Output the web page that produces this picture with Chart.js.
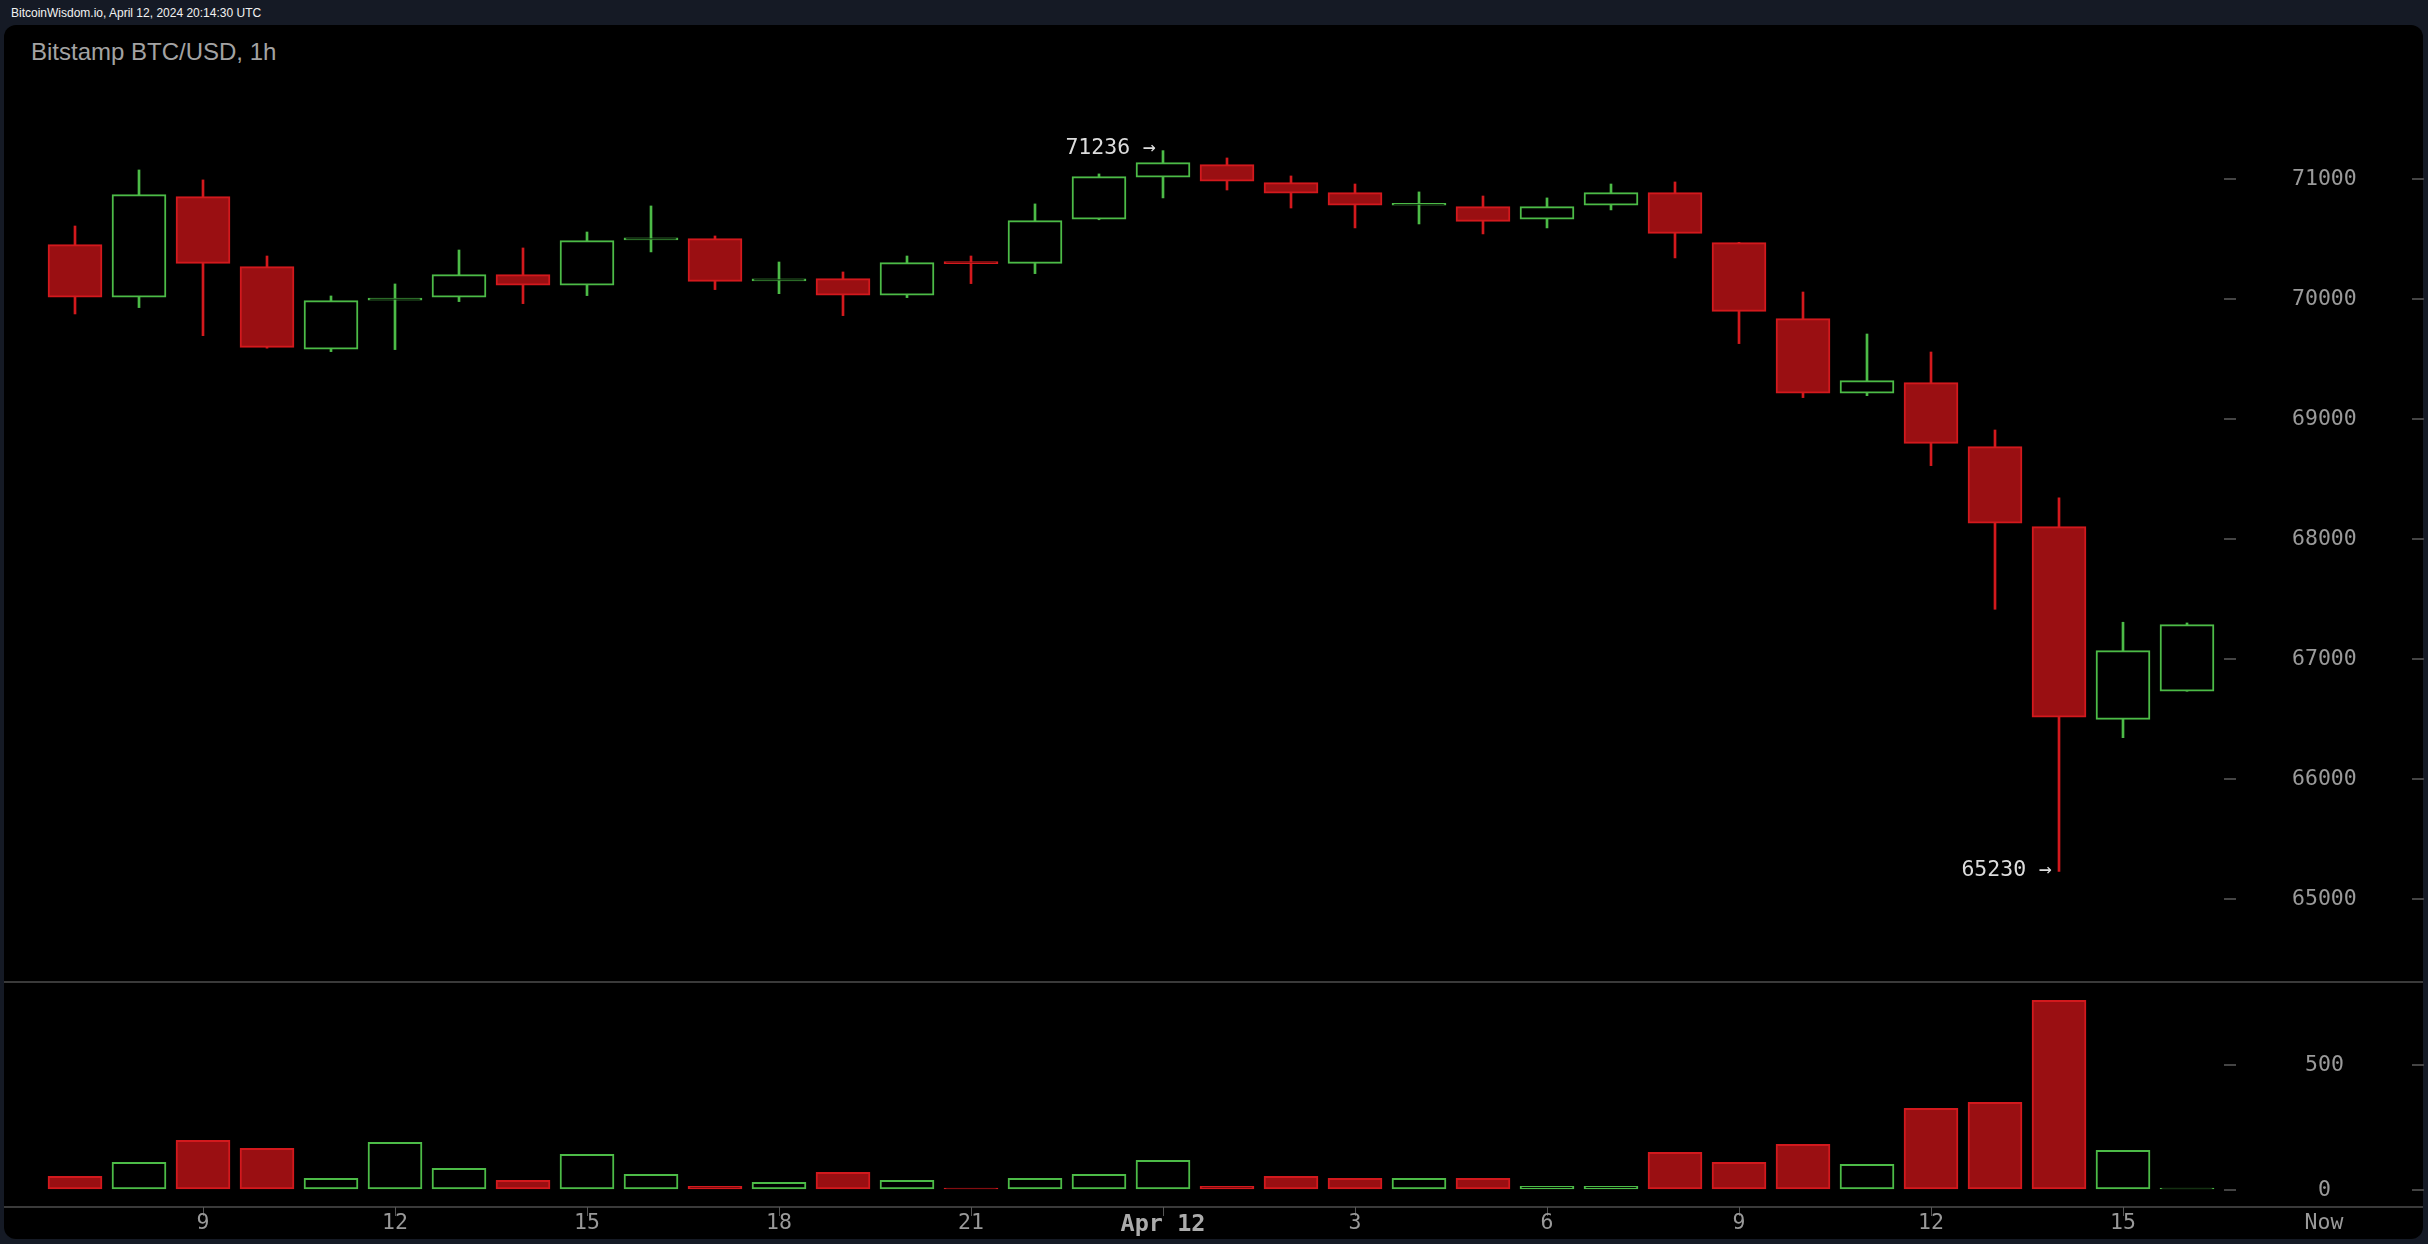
<!DOCTYPE html>
<html>
<head>
<meta charset="utf-8">
<script src="https://cdn.jsdelivr.net/npm/chart.js@4.4.1/dist/chart.umd.min.js"></script>
<style>
  html, body { margin: 0; padding: 0; width: 2428px; height: 1244px; overflow: hidden; background: #151a25; }
  #header { position: absolute; left: 11px; top: 7px; font: 12px/12px "Liberation Sans", Arial, sans-serif; color: #f2f2f2; white-space: nowrap; }
  #panel { position: absolute; left: 4px; top: 25px; width: 2419px; height: 1214px; background: #000; border-radius: 12px; }
  #title { position: absolute; left: 31px; top: 40px; font: 24px/24px "Liberation Sans", Arial, sans-serif; color: #a3a3a3; white-space: nowrap; }
  .hline { position: absolute; left: 4px; width: 2419px; height: 2px; background: #3a3a3a; }
  #sep { top: 981px; }
  #axisline { top: 1206px; }
  #priceCanvas { position: absolute; left: 0; top: 0; }
  #volCanvas { position: absolute; left: 0; top: 982px; }
</style>
</head>
<body>
<div id="header">BitcoinWisdom.io, April 12, 2024 20:14:30 UTC</div>
<div id="panel"></div>
<div class="hline" id="sep"></div>
<div class="hline" id="axisline"></div>
<div id="title">Bitstamp BTC/USD, 1h</div>
<canvas id="priceCanvas" width="2428" height="982"></canvas>
<canvas id="volCanvas" width="2428" height="262"></canvas>
<script>
// ---- data (hours since Apr 11 00:00) ----
const times  = [7, 8, 9, 10, 11, 12, 13, 14, 15, 16, 17, 18, 19, 20, 21, 22, 23, 24, 25, 26, 27, 28, 29, 30, 31, 32, 33, 34, 35, 36, 37, 38, 39, 40];
const opens  = [70453, 70014, 70853, 70269, 69581, 69990, 70014, 70203, 70114, 70492, 70503, 70150, 70169, 70031, 70305, 70297, 70664, 71014, 71119, 70969, 70886, 70781, 70769, 70664, 70781, 70886, 70469, 69836, 69214, 69303, 68769, 68103, 66497, 66731];
const highs  = [70608, 71075, 70992, 70358, 70025, 70125, 70408, 70425, 70558, 70775, 70525, 70308, 70225, 70358, 70358, 70792, 71042, 71236, 71175, 71025, 70958, 70892, 70858, 70842, 70958, 70975, 70472, 70058, 69708, 69558, 68908, 68342, 67306, 67300];
const lows   = [69875, 69928, 69694, 69590, 69561, 69578, 69978, 69961, 70028, 70392, 70078, 70044, 69861, 70011, 70128, 70211, 70660, 70842, 70908, 70758, 70592, 70625, 70542, 70592, 70742, 70342, 69628, 69178, 69194, 68611, 67414, 65230, 66344, 66731];
const closes = [70014, 70869, 70297, 69597, 69986, 70000, 70203, 70114, 70486, 70500, 70147, 70167, 70031, 70303, 70295, 70653, 71019, 71136, 70981, 70881, 70781, 70785, 70647, 70769, 70886, 70547, 69897, 69214, 69319, 68797, 68131, 66514, 67069, 67286];
const volumes = [55, 111, 199, 167, 47, 191, 87, 39, 143, 63, 15, 31, 71, 39, 7, 47, 63, 119, 15, 55, 47, 47, 47, 15, 15, 151, 111, 183, 103, 327, 351, 759, 159, 3];

const priceTicks  = [65000, 66000, 67000, 68000, 69000, 70000, 71000];
const volumeTicks = [0, 500];
const xTickValues = [9, 12, 15, 18, 21, 24, 27, 30, 33, 36, 39];
const xTickLabels = ['9', '12', '15', '18', '21', 'Apr 12', '3', '6', '9', '12', '15'];
const nowLabel = 'Now';

// ---- axis ranges ----
const xMin = 6.140625, xMax = 40.578125;
const pMin = 64308, pMax = 71908;
const vMin = -68, vMax = 832;

// ---- styles ----
const RED_FILL = '#9a0f12', RED_LINE = '#d3191d', GREEN = '#4cbb47';
const MONO = '"DejaVu Sans Mono", monospace';
const up = i => closes[i] >= opens[i];

const edgeTicks = {
  id: 'edgeTicks',
  afterDraw(chart) {
    const s = chart.scales.y, ctx = chart.ctx;
    ctx.save();
    ctx.strokeStyle = '#444'; ctx.lineWidth = 2;
    s.ticks.forEach(t => {
      const y = Math.round(s.getPixelForValue(t.value));
      ctx.beginPath(); ctx.moveTo(2412, y); ctx.lineTo(2424, y); ctx.stroke();
    });
    ctx.restore();
  }
};

const extremes = {
  id: 'extremes',
  afterDatasetsDraw(chart) {
    const xs = chart.scales.x, ys = chart.scales.y, ctx = chart.ctx;
    const hi = Math.max(...highs), lo = Math.min(...lows);
    const iHi = highs.indexOf(hi), iLo = lows.indexOf(lo);
    ctx.save();
    ctx.font = '21.5px ' + MONO;
    ctx.fillStyle = '#dcdcdc';
    ctx.textAlign = 'right';
    ctx.textBaseline = 'middle';
    ctx.fillText(hi + ' \u2192', xs.getPixelForValue(times[iHi]) - 7, ys.getPixelForValue(hi) - 2);
    ctx.fillText(lo + ' \u2192', xs.getPixelForValue(times[iLo]) - 7, ys.getPixelForValue(lo) - 1);
    ctx.restore();
  }
};

const nowText = {
  id: 'nowText',
  afterDraw(chart) {
    const xs = chart.scales.x, ctx = chart.ctx;
    ctx.save();
    ctx.font = '21.5px ' + MONO;
    ctx.fillStyle = '#999';
    ctx.textAlign = 'center';
    ctx.textBaseline = 'middle';
    ctx.fillText(nowLabel, 2324, xs.top + 9 - 5 + 21.5 * 1.2 / 2);
    ctx.restore();
  }
};

const commonX = {
  type: 'linear', min: xMin, max: xMax, offset: false, bounds: 'data',
  grid: { offset: false, drawOnChartArea: false }
};

new Chart(document.getElementById('priceCanvas'), {
  type: 'bar',
  data: {
    datasets: [
      {
        label: 'body',
        data: times.map((t, i) => ({ x: t, y: [opens[i], closes[i]] })),
        backgroundColor: c => up(c.dataIndex) ? '#000' : RED_FILL,
        borderColor: c => up(c.dataIndex) ? GREEN : RED_LINE,
        borderWidth: 2, borderSkipped: false, barThickness: 54, minBarLength: 2,
        grouped: false, order: 0
      },
      {
        label: 'wick',
        data: times.map((t, i) => ({ x: t, y: [lows[i], highs[i]] })),
        backgroundColor: c => up(c.dataIndex) ? GREEN : RED_LINE,
        borderWidth: 0, barThickness: 2, grouped: false, order: 1
      }
    ]
  },
  options: {
    responsive: false, animation: false, devicePixelRatio: 1, events: [],
    layout: { padding: { left: 20, right: 16, top: 70, bottom: 0 } },
    plugins: { legend: { display: false }, tooltip: { enabled: false } },
    scales: {
      x: Object.assign({}, commonX, { display: false }),
      y: {
        type: 'linear', position: 'right', min: pMin, max: pMax, bounds: 'data', beginAtZero: false,
        afterBuildTicks: s => { s.ticks = priceTicks.map(v => ({ value: v })); },
        afterFit: s => { s.width = 188; s.paddingTop = 0; s.paddingBottom = 0; },
        grid: { drawOnChartArea: false, drawTicks: true, tickLength: 12, color: '#444', lineWidth: 2 },
        border: { display: false },
        ticks: { color: '#9a9a9a', font: { family: MONO, size: 21.5 }, padding: 56, crossAlign: 'center', callback: v => String(v) }
      }
    }
  },
  plugins: [edgeTicks, extremes]
});

new Chart(document.getElementById('volCanvas'), {
  type: 'bar',
  data: {
    datasets: [{
      label: 'volume',
      data: times.map((t, i) => ({ x: t, y: volumes[i] })),
      backgroundColor: c => up(c.dataIndex) ? '#000' : RED_FILL,
      borderColor: c => up(c.dataIndex) ? GREEN : RED_LINE,
      borderWidth: 2, borderSkipped: false, barThickness: 54, minBarLength: 2, grouped: false
    }]
  },
  options: {
    responsive: false, animation: false, devicePixelRatio: 1, events: [],
    layout: { padding: { left: 20, right: 16, top: 0, bottom: 0 } },
    plugins: { legend: { display: false }, tooltip: { enabled: false } },
    scales: {
      x: Object.assign({}, commonX, {
        position: 'bottom',
        afterBuildTicks: s => { s.ticks = xTickValues.map(v => ({ value: v })); },
        afterFit: s => { s.height = 37; s.paddingLeft = 0; s.paddingRight = 0; },
        grid: { offset: false, drawOnChartArea: false, drawTicks: true, tickLength: 9, color: '#555', lineWidth: 1 },
        border: { display: false },
        ticks: {
          autoSkip: false, maxRotation: 0, minRotation: 0, padding: -5,
          callback: v => xTickLabels[xTickValues.indexOf(v)],
          font: c => (c.tick && xTickLabels[xTickValues.indexOf(c.tick.value)] === 'Apr 12')
            ? { family: MONO, size: 23.5, weight: 'bold', lineHeight: 1.2 }
            : { family: MONO, size: 21.5, lineHeight: 1.2 },
          color: c => (c.tick && xTickLabels[xTickValues.indexOf(c.tick.value)] === 'Apr 12') ? '#ababab' : '#999'
        }
      }),
      y: {
        type: 'linear', position: 'right', min: vMin, max: vMax, bounds: 'data', beginAtZero: false,
        afterBuildTicks: s => { s.ticks = volumeTicks.map(v => ({ value: v })); },
        afterFit: s => { s.width = 188; s.paddingTop = 0; s.paddingBottom = 0; },
        grid: { drawOnChartArea: false, drawTicks: true, tickLength: 12, color: '#444', lineWidth: 2 },
        border: { display: false },
        ticks: { color: '#9a9a9a', font: { family: MONO, size: 21.5 }, padding: 69, crossAlign: 'center', callback: v => String(v) }
      }
    }
  },
  plugins: [edgeTicks, nowText]
});
</script>
</body>
</html>
